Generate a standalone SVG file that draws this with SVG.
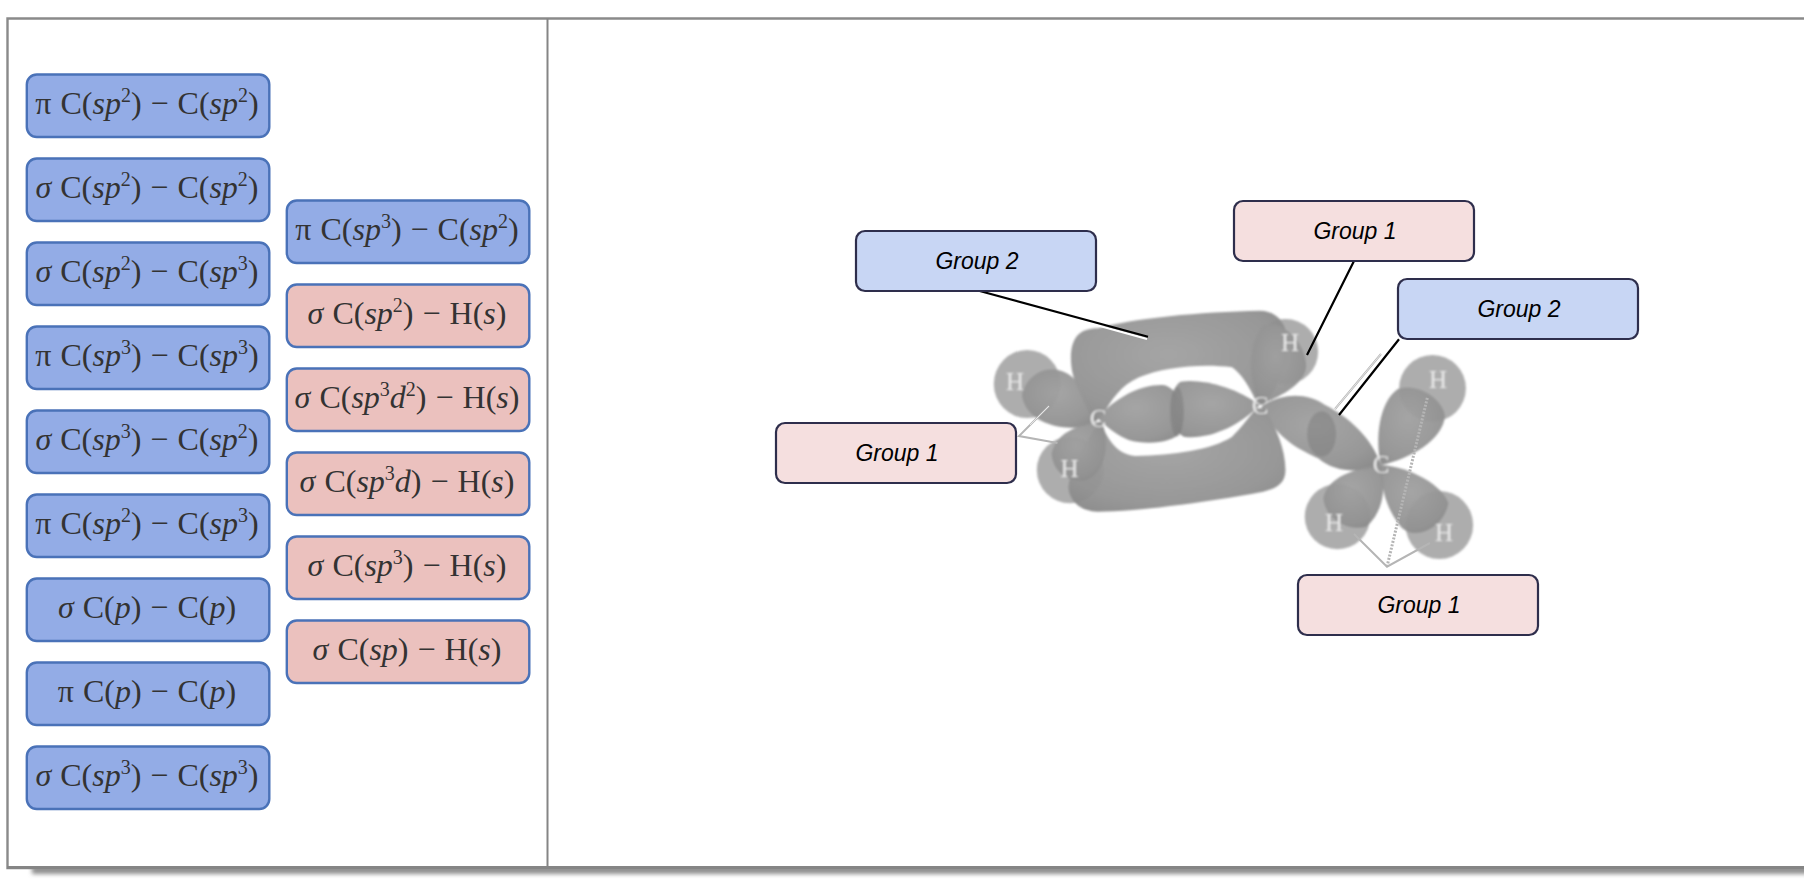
<svg xmlns="http://www.w3.org/2000/svg" width="1804" height="886" viewBox="0 0 1804 886">
<style>
.b rect{stroke:#4a72b8;stroke-width:2.4}
.blue rect{fill:#93ace6}
.red rect{fill:#ebc1be}
.m{font-family:"Liberation Serif",serif;font-size:32px;fill:#333;text-anchor:middle;word-spacing:1px}
.m .i{font-style:italic}
.m .s{font-size:20px}
.c rect{stroke:#2e2e4c;stroke-width:2.2}
.c1 rect{fill:#f5dfdf}
.c2 rect{fill:#c8d6f4}
.c text{font-family:"Liberation Sans",sans-serif;font-style:italic;font-size:23px;fill:#000;text-anchor:middle}
.lobe{fill:url(#lg);fill-opacity:.95}
.sph{fill:#adadad}
.dk{fill:#777;fill-opacity:.45}
.at{font-family:"Liberation Serif",serif;font-size:25px;fill:#e9e9e9;text-anchor:middle}
.ln{fill:none;stroke:#000;stroke-width:2.2}
.ws{fill:none;stroke:#fff;stroke-width:2}
.gl{fill:none;stroke:#b5b5b5;stroke-width:2}
.gh{fill:none;stroke:#b5b5b5;stroke-width:3;stroke-dasharray:2 1.500}
.gw{fill:none;stroke:#f2f2f2;stroke-width:.8}
</style>
<defs>
<filter id="soft" x="-5%" y="-5%" width="110%" height="110%"><feGaussianBlur stdDeviation="0.8"/></filter>
<filter id="sh" x="-2%" y="-200%" width="104%" height="500%"><feGaussianBlur stdDeviation="2"/></filter>
<radialGradient id="lg" cx=".45" cy=".4" r=".75"><stop offset="0" stop-color="#a0a0a0"/><stop offset=".7" stop-color="#929292"/><stop offset="1" stop-color="#848484"/></radialGradient>
</defs>

<g id="frame">
<rect x="32" y="866" width="1790" height="8" fill="#8f8f8f" filter="url(#sh)"/>
<rect x="7" y="18.500" width="1810" height="849.500" fill="#fff"/>
<path d="M1804 18.500H7.500V868H1804" fill="none" stroke="#8a8a8a" stroke-width="2.400"/>
<path d="M7 867.500H1804" stroke="#858585" stroke-width="3"/>
<path d="M547.500 18.500V868" stroke="#858585" stroke-width="2"/>
</g>

<g id="molecule" filter="url(#soft)">
<g transform="translate(960 280) scale(.3444 .3333)">
<ellipse class="sph" cx="195" cy="312" rx="97" ry="102"/>
<ellipse class="sph" cx="320" cy="570" rx="97" ry="100"/>
<ellipse class="sph" cx="945" cy="215" rx="95" ry="98"/>
<ellipse class="sph" cx="1372" cy="325" rx="97" ry="100"/>
<ellipse class="sph" cx="1096" cy="710" rx="95" ry="98"/>
<ellipse class="sph" cx="1392" cy="735" rx="98" ry="102"/>
<path class="lobe" d="M322 235C322 170 350 145 400 145C500 115 700 95 870 92C920 92 945 130 950 170C955 240 930 320 880 375L860 365C840 320 820 285 790 262C700 250 590 262 520 292C470 315 440 355 410 415L385 420C350 340 322 300 322 235Z"/>
<path class="lobe" d="M405 425C430 470 445 520 510 528C620 525 730 510 790 470C810 450 830 425 860 385L885 385C910 430 945 500 945 570C945 610 920 625 880 635C700 670 500 695 400 695C350 695 315 660 315 620C320 560 370 480 405 425Z"/>
<path class="lobe" d="M400 415C450 350 530 312 590 315C640 325 655 400 640 455C620 490 540 495 490 480C460 470 425 440 400 415Z"/>
<path class="lobe" d="M870 375C800 320 700 295 640 305C605 325 605 450 650 470C720 480 810 440 870 375Z"/>
<ellipse class="dk" cx="630" cy="395" rx="20" ry="75"/>
<path class="lobe" d="M400 420C370 370 350 300 310 280C250 245 190 290 180 345C185 400 240 435 300 442C340 447 375 438 400 420Z"/>
<path class="lobe" d="M412 425C360 430 280 450 266 520C268 575 315 608 360 602C415 590 440 500 412 425Z"/>
<path class="lobe" d="M870 375C840 300 830 210 880 135C940 120 1005 190 1005 260C1000 310 940 345 870 375Z"/>
<path class="lobe" d="M875 380C920 345 1000 330 1060 375C1130 410 1200 480 1222 555C1170 580 1090 580 1040 535C990 510 920 480 875 380Z"/>
<ellipse class="dk" cx="1050" cy="462" rx="42" ry="68"/>
<path class="lobe" d="M1222 555C1205 480 1215 370 1270 328C1330 305 1405 360 1408 410C1400 480 1310 535 1222 555Z"/>
<path class="lobe" d="M1222 555C1150 565 1065 590 1055 655C1060 720 1130 755 1180 740C1225 700 1240 630 1222 555Z"/>
<path class="lobe" d="M1222 555C1310 560 1405 620 1418 670C1405 745 1320 785 1280 740C1245 695 1222 640 1222 555Z"/>
</g>
<text class="at" x="1015" y="390">H</text>
<text class="at" x="1069.500" y="477">H</text>
<text class="at" x="1290" y="351">H</text>
<text class="at" x="1438" y="388">H</text>
<text class="at" x="1334" y="531">H</text>
<text class="at" x="1444" y="541">H</text>
<text class="at" x="1098" y="427">C</text>
<text class="at" x="1260" y="414">C</text>
<text class="at" x="1381" y="473">C</text>
</g>

<g id="connectors">
<path class="gl" d="M1381 354L1335 409M1049 406L1019 436L1057.500 443M1354 534L1387 566.700L1430 543"/>
<path class="gh" d="M1387 566.700L1427.600 396.700"/>
<path class="gw" d="M1381 354L1335 409M1049 406L1030 425"/>
<path class="ws" d="M976 292L1147 339"/>
<path class="ln" d="M976 290L1148 336.700M1354 261L1307 355M1399 339.300L1339 415"/>
</g>

<g id="n1" class="b blue"><rect x="26.800" y="74.500" width="242.500" height="62.500" rx="10"/><text class="m" x="147" y="114">π C(<tspan class="i">sp</tspan><tspan class="s" dy="-12">2</tspan><tspan dy="12">) − C(</tspan><tspan class="i">sp</tspan><tspan class="s" dy="-12">2</tspan><tspan dy="12">)</tspan></text></g>
<g id="n2" class="b blue"><rect x="26.800" y="158.500" width="242.500" height="62.500" rx="10"/><text class="m" x="147" y="198"><tspan class="i">σ</tspan> C(<tspan class="i">sp</tspan><tspan class="s" dy="-12">2</tspan><tspan dy="12">) − C(</tspan><tspan class="i">sp</tspan><tspan class="s" dy="-12">2</tspan><tspan dy="12">)</tspan></text></g>
<g id="n3" class="b blue"><rect x="26.800" y="242.500" width="242.500" height="62.500" rx="10"/><text class="m" x="147" y="282"><tspan class="i">σ</tspan> C(<tspan class="i">sp</tspan><tspan class="s" dy="-12">2</tspan><tspan dy="12">) − C(</tspan><tspan class="i">sp</tspan><tspan class="s" dy="-12">3</tspan><tspan dy="12">)</tspan></text></g>
<g id="n4" class="b blue"><rect x="26.800" y="326.500" width="242.500" height="62.500" rx="10"/><text class="m" x="147" y="366">π C(<tspan class="i">sp</tspan><tspan class="s" dy="-12">3</tspan><tspan dy="12">) − C(</tspan><tspan class="i">sp</tspan><tspan class="s" dy="-12">3</tspan><tspan dy="12">)</tspan></text></g>
<g id="n5" class="b blue"><rect x="26.800" y="410.500" width="242.500" height="62.500" rx="10"/><text class="m" x="147" y="450"><tspan class="i">σ</tspan> C(<tspan class="i">sp</tspan><tspan class="s" dy="-12">3</tspan><tspan dy="12">) − C(</tspan><tspan class="i">sp</tspan><tspan class="s" dy="-12">2</tspan><tspan dy="12">)</tspan></text></g>
<g id="n6" class="b blue"><rect x="26.800" y="494.500" width="242.500" height="62.500" rx="10"/><text class="m" x="147" y="534">π C(<tspan class="i">sp</tspan><tspan class="s" dy="-12">2</tspan><tspan dy="12">) − C(</tspan><tspan class="i">sp</tspan><tspan class="s" dy="-12">3</tspan><tspan dy="12">)</tspan></text></g>
<g id="n7" class="b blue"><rect x="26.800" y="578.500" width="242.500" height="62.500" rx="10"/><text class="m" x="147" y="618"><tspan class="i">σ</tspan> C(<tspan class="i">p</tspan>) − C(<tspan class="i">p</tspan>)</text></g>
<g id="n8" class="b blue"><rect x="26.800" y="662.500" width="242.500" height="62.500" rx="10"/><text class="m" x="147" y="702">π C(<tspan class="i">p</tspan>) − C(<tspan class="i">p</tspan>)</text></g>
<g id="n9" class="b blue"><rect x="26.800" y="746.500" width="242.500" height="62.500" rx="10"/><text class="m" x="147" y="786"><tspan class="i">σ</tspan> C(<tspan class="i">sp</tspan><tspan class="s" dy="-12">3</tspan><tspan dy="12">) − C(</tspan><tspan class="i">sp</tspan><tspan class="s" dy="-12">3</tspan><tspan dy="12">)</tspan></text></g>

<g id="n10" class="b blue"><rect x="286.800" y="200.500" width="242.500" height="62.500" rx="10"/><text class="m" x="407" y="240">π C(<tspan class="i">sp</tspan><tspan class="s" dy="-12">3</tspan><tspan dy="12">) − C(</tspan><tspan class="i">sp</tspan><tspan class="s" dy="-12">2</tspan><tspan dy="12">)</tspan></text></g>
<g id="n11" class="b red"><rect x="286.800" y="284.500" width="242.500" height="62.500" rx="10"/><text class="m" x="407" y="324"><tspan class="i">σ</tspan> C(<tspan class="i">sp</tspan><tspan class="s" dy="-12">2</tspan><tspan dy="12">) − H(</tspan><tspan class="i">s</tspan>)</text></g>
<g id="n12" class="b red"><rect x="286.800" y="368.500" width="242.500" height="62.500" rx="10"/><text class="m" x="407" y="408"><tspan class="i">σ</tspan> C(<tspan class="i">sp</tspan><tspan class="s" dy="-12">3</tspan><tspan class="i" dy="12">d</tspan><tspan class="s" dy="-12">2</tspan><tspan dy="12">) − H(</tspan><tspan class="i">s</tspan>)</text></g>
<g id="n13" class="b red"><rect x="286.800" y="452.500" width="242.500" height="62.500" rx="10"/><text class="m" x="407" y="492"><tspan class="i">σ</tspan> C(<tspan class="i">sp</tspan><tspan class="s" dy="-12">3</tspan><tspan class="i" dy="12">d</tspan>) − H(<tspan class="i">s</tspan>)</text></g>
<g id="n14" class="b red"><rect x="286.800" y="536.500" width="242.500" height="62.500" rx="10"/><text class="m" x="407" y="576"><tspan class="i">σ</tspan> C(<tspan class="i">sp</tspan><tspan class="s" dy="-12">3</tspan><tspan dy="12">) − H(</tspan><tspan class="i">s</tspan>)</text></g>
<g id="n15" class="b red"><rect x="286.800" y="620.500" width="242.500" height="62.500" rx="10"/><text class="m" x="407" y="660"><tspan class="i">σ</tspan> C(<tspan class="i">sp</tspan>) − H(<tspan class="i">s</tspan>)</text></g>

<g id="c1" class="c c2"><rect x="856" y="231" width="240" height="60" rx="9"/><text x="977" y="269">Group 2</text></g>
<g id="c2" class="c c1"><rect x="776" y="423" width="240" height="60" rx="9"/><text x="897" y="461">Group 1</text></g>
<g id="c3" class="c c1"><rect x="1234" y="201" width="240" height="60" rx="9"/><text x="1355" y="239">Group 1</text></g>
<g id="c4" class="c c2"><rect x="1398" y="279" width="240" height="60" rx="9"/><text x="1519" y="317">Group 2</text></g>
<g id="c5" class="c c1"><rect x="1298" y="575" width="240" height="60" rx="9"/><text x="1419" y="613">Group 1</text></g>
</svg>
